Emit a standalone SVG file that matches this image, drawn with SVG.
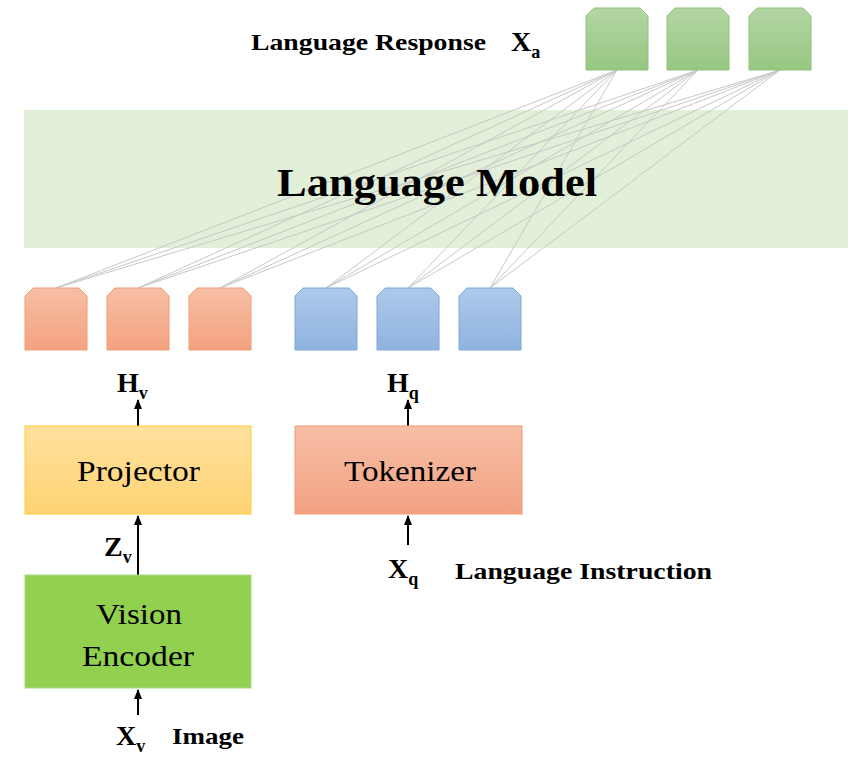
<svg xmlns="http://www.w3.org/2000/svg" width="865" height="766" viewBox="0 0 865 766">
<defs>
<linearGradient id="gG" x1="0" y1="0" x2="0" y2="1"><stop offset="0" stop-color="#b3d6a3"/><stop offset="1" stop-color="#97c682"/></linearGradient>
<linearGradient id="gO" x1="0" y1="0" x2="0" y2="1"><stop offset="0" stop-color="#f7bfa6"/><stop offset="1" stop-color="#f4a27f"/></linearGradient>
<linearGradient id="gB" x1="0" y1="0" x2="0" y2="1"><stop offset="0" stop-color="#aec9ea"/><stop offset="1" stop-color="#8fb3e0"/></linearGradient>
<linearGradient id="gY" x1="0" y1="0" x2="0" y2="1"><stop offset="0" stop-color="#ffe19e"/><stop offset="1" stop-color="#ffd374"/></linearGradient>
<linearGradient id="gT" x1="0" y1="0" x2="0" y2="1"><stop offset="0" stop-color="#f6bea6"/><stop offset="1" stop-color="#f3a283"/></linearGradient>
<marker id="ah" viewBox="0 0 10 10" refX="9" refY="5" markerWidth="10" markerHeight="10" markerUnits="userSpaceOnUse" orient="auto"><path d="M0,1 L10,5 L0,9 Z" fill="#000"/></marker>
<path id="tok" d="M0,62 V8 L8,0 H54 L62,8 V62 Z"/>
</defs>
<style>
.t{font-family:"Liberation Serif",serif;fill:#000}
.b{font-weight:bold}
.arr{stroke:#000;stroke-width:2;fill:none;marker-end:url(#ah)}
.ln{stroke:#c8c8c8;stroke-width:1;fill:none}
</style>
<rect width="865" height="766" fill="#fff"/>
<g id="lm"><rect x="24" y="110" width="824" height="138" fill="#e2efd9"/></g>
<g id="connectors">
<g class="ln">
<path d="M617,70L56,288M617,70L138,288M617,70L220,288M617,70L326,288M617,70L408,288M617,70L490,288"/>
<path d="M698,70L56,288M698,70L138,288M698,70L220,288M698,70L326,288M698,70L408,288M698,70L490,288"/>
<path d="M780,70L56,288M780,70L138,288M780,70L220,288M780,70L326,288M780,70L408,288M780,70L490,288"/>
</g>
<path class="arr" d="M138,426V400"/>
<path class="arr" d="M138,575V516"/>
<path class="arr" d="M138,715V690"/>
<path class="arr" d="M408,426V400"/>
<path class="arr" d="M408,545V516"/>
</g>
<g id="lmlabel"><text class="t b" x="277" y="196" font-size="40" textLength="320" lengthAdjust="spacingAndGlyphs">Language Model</text></g>
<g id="resp"><g fill="url(#gG)" stroke="#8fc27a">
<use href="#tok" x="586" y="8"/><use href="#tok" x="667" y="8"/><use href="#tok" x="749" y="8"/></g>
<text class="t b" x="251" y="50" font-size="24" textLength="235" lengthAdjust="spacingAndGlyphs">Language Response</text>
<text class="t b" x="511" y="51" font-size="28">X<tspan font-size="18" dy="7">a</tspan></text></g>
<g id="vtok" fill="url(#gO)" stroke="#f09a72">
<use href="#tok" x="25" y="288"/><use href="#tok" x="107" y="288"/><use href="#tok" x="189" y="288"/></g>
<g id="qtok" fill="url(#gB)" stroke="#7fa8d8">
<use href="#tok" x="295" y="288"/><use href="#tok" x="377" y="288"/><use href="#tok" x="459" y="288"/></g>
<g id="hv"><text class="t b" x="117" y="392" font-size="28">H<tspan font-size="18" dy="7">v</tspan></text></g>
<g id="hq"><text class="t b" x="387" y="392" font-size="28">H<tspan font-size="18" dy="7">q</tspan></text></g>
<g id="projector"><rect x="25" y="426" width="226" height="88" fill="url(#gY)" stroke="#ffcc33"/>
<text class="t" x="77" y="481" font-size="30" textLength="123" lengthAdjust="spacingAndGlyphs">Projector</text></g>
<g id="tokenizer"><rect x="295" y="426" width="227" height="88" fill="url(#gT)" stroke="#f09a72"/>
<text class="t" x="344" y="481" font-size="30" textLength="132" lengthAdjust="spacingAndGlyphs">Tokenizer</text></g>
<g id="zv"><text class="t b" x="104" y="556" font-size="28">Z<tspan font-size="18" dy="7">v</tspan></text></g>
<g id="encoder"><rect x="25" y="575" width="226" height="113" fill="#92d050" stroke="#a9d98a"/>
<text class="t" x="96" y="624" font-size="30" textLength="86" lengthAdjust="spacingAndGlyphs">Vision</text>
<text class="t" x="82" y="666" font-size="30" textLength="112" lengthAdjust="spacingAndGlyphs">Encoder</text></g>
<g id="xv"><text class="t b" x="116" y="745" font-size="28">X<tspan font-size="18" dy="7">v</tspan></text>
<text class="t b" x="172" y="744" font-size="24" textLength="72" lengthAdjust="spacingAndGlyphs">Image</text></g>
<g id="xq"><text class="t b" x="388" y="578" font-size="28">X<tspan font-size="18" dy="7">q</tspan></text>
<text class="t b" x="455" y="579" font-size="24" textLength="257" lengthAdjust="spacingAndGlyphs">Language Instruction</text></g>
</svg>
